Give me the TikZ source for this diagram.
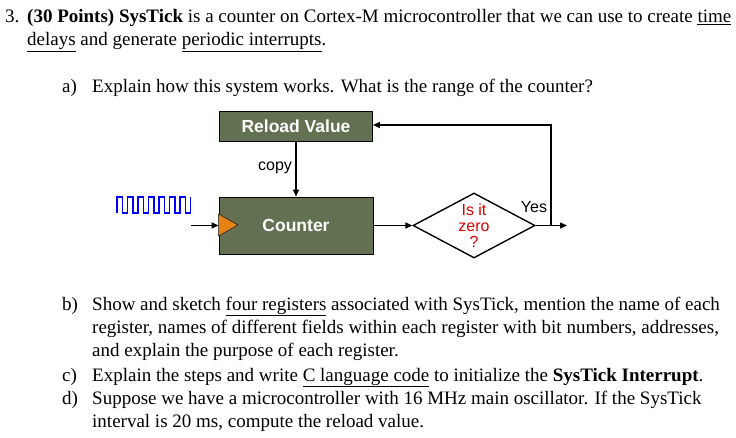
\documentclass[tikz,border=0pt]{standalone}
\usepackage{fontspec}
\setmainfont{Liberation Serif}
\newfontfamily\dsans{Liberation Sans}
\usetikzlibrary{shapes.geometric,arrows.meta}
\begin{document}
\begin{tikzpicture}[x=1pt,y=-1pt,
  txt/.style={anchor=base west,inner sep=0pt,font=\fontsize{19}{23}\selectfont},
  blk/.style={draw=black,line width=0.8pt,text=white,font=\dsans\bfseries\fontsize{17.5}{20}\selectfont,inner sep=0pt},
  lbl/.style={font=\dsans\fontsize{16}{18}\selectfont,inner sep=0pt},
  ar/.style={-{Triangle[length=7pt,width=6pt]},line width=1.4pt}]
\definecolor{boxg}{RGB}{100,112,82}
\useasboundingbox (0,0) rectangle (736,438);
\node[txt] (n3) at (5,23) {3.};
\node[txt] (l1) at (27,23) {\textbf{(30 Points) SysTick} is a counter on Cortex-M microcontroller that we can use to create \underline{time}};
\node[txt] (l2) at (27,46) {\underline{delays} and generate \underline{periodic interrupts}.};
\node[txt] (la) at (62,93) {a)};
\node[txt] (la1) at (92,93) {Explain how this system works. What is the range of the counter?};
\node[txt] (lb) at (62,310) {b)};
\node[txt] (lb1) at (92,310) {Show and sketch \underline{four registers} associated with SysTick, mention the name of each};
\node[txt] (lb2) at (92,333) {register, names of different fields within each register with bit numbers, addresses,};
\node[txt] (lb3) at (92,356) {and explain the purpose of each register.};
\node[txt] (lc) at (62,381) {c)};
\node[txt] (lc1) at (92,381) {Explain the steps and write \underline{C language code} to initialize the \textbf{SysTick Interrupt}.};
\node[txt] (ld) at (62,404) {d)};
\node[txt] (ld1) at (92,404) {Suppose we have a microcontroller with 16 MHz main oscillator. If the SysTick};
\node[txt] (ld2) at (92,427) {interval is 20 ms, compute the reload value.};
% diagram
\node[blk,fill=boxg,minimum width=153pt,minimum height=30pt] (rv) at (296,126) {Reload Value};
\node[blk,fill=boxg,minimum width=154pt,minimum height=57pt] (ct) at (296,225.5) {Counter};
\fill[fill={rgb,255:red,230;green,130;blue,20},draw=black,line width=0.4pt] (ct.west|-0,214) -- (238,225) -- (ct.west|-0,236) -- cycle;
\node[diamond,draw,line width=1.4pt,aspect=1.88,minimum width=122pt,minimum height=65pt,inner sep=0pt] (dm) at (474,225.5) {};
\node[lbl,text=red!85!black,align=center,font=\dsans\fontsize{16}{16}\selectfont] (dq) at (474,226) {Is it\\zero\\?};
\node[lbl] (yes) at (534,207) {Yes};
\node[lbl] (cp) at (275,168) {copy};
\coordinate (out) at (567,225.5);
\coordinate (tp) at (551,125);
\coordinate (in) at (191,225.5);
\draw[ar] (rv) -- (ct);
\draw[ar] (ct) -- (dm);
\draw[ar] (dm) -- (out);
\draw[ar] (dm.east-|tp) -- (tp) -- (rv.east|-tp);
\draw[ar] (in) -- (ct.west|-in);
\draw[blue,line width=1.1pt] (117,213) \foreach \i in {0,...,6} { -- ++(0,-16) -- ++(5.5,0) -- ++(0,16) -- ++(5,0)} -- ++(0,-16);
\end{tikzpicture}
\end{document}
